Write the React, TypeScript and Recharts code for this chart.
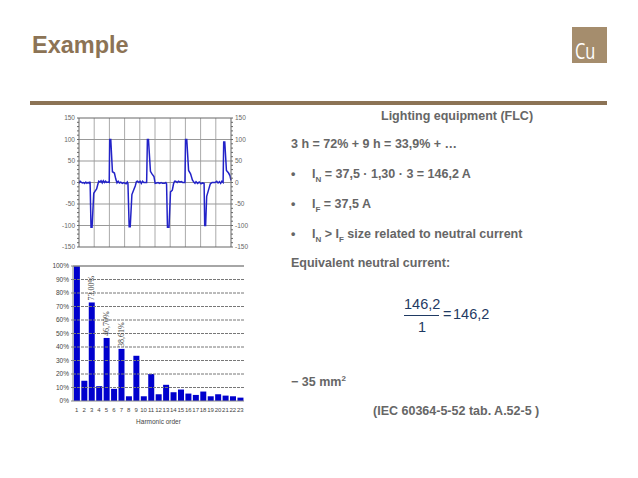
import { LineChart, Line, BarChart, Bar, XAxis, YAxis, ReferenceLine, LabelList } from 'recharts';

// waveform (x = 0..100 across the ten grid cells)
const waveTime = [
  0, 0.7, 1.4, 2.2, 3, 3.7, 4.5, 5.2, 6, 6.8, 7.3, 7.9, 8.6, 9.7, 10.6, 11.6, 12.4, 13, 13.8, 14.5, 15.3, 16, 16.8,
  17.5, 18.3, 19.2, 19.9, 20.2, 20.9, 22, 23.3, 24.2, 25, 25.8, 26.6, 27.5, 28.5, 29.5, 31, 31.8, 32.2, 33, 33.7,
  34.8, 35.9, 37, 37.8, 38.5, 39.4, 40.2, 41, 41.8, 42.6, 43.5, 44.5, 45, 45.7, 47, 48, 49.3, 50.1, 51, 52, 53, 54,
  55, 56.2, 57.1, 57.6, 58.2, 59.2, 60.2, 61.4, 62.2, 62.9, 63.6, 64.6, 65.5, 66.4, 67.3, 68.2, 69, 69.7, 70.1,
  70.9, 72.1, 73.4, 74.6, 75.5, 76.3, 77, 78, 79.1, 80.3, 81.2, 82.3, 82.7, 83.3, 84, 85, 86.4, 87.6, 88.4, 89.5,
  90.6, 91.5, 92.4, 93.2, 94, 94.8, 95.2, 95.9, 97, 98.4, 99.3, 100,
];
const waveCurrent = [
  -2, 3, 1, -1, 0, -2, 1, -2, 0, -2, 2, -104, -104, -25, -20, -15, -4, 3, 1, 4, -1, 4, 0, 3, 0, 1, 0, 100, 100, 25,
  22, 8, -1, 3, -1, 1, -2, 0, -3, 1, -2, -103, -103, -28, -18, -8, 2, 3, 0, 3, -2, 3, 0, 0, 0, 100, 100, 26, 20, 14,
  -2, -1, 0, -2, 0, -2, -2, 0, -3, -104, -104, -22, -18, -3, 3, 3, 0, 3, 1, 2, 0, 0, 0, 100, 100, 28, 20, 6, 1, -2,
  2, -2, 1, -3, -1, -2, -100, -100, -32, -20, -3, 0, 0, 0, 3, -1, 2, -2, 3, 0, 94, 94, 28, 22, 16, 5,
];
const voltTicks = [-150, -140, -130, -120, -110, -100, -90, -80, -70, -60, -50, -40, -30, -20, -10, 0, 10, 20, 30, 40, 50, 60, 70, 80, 90, 100, 110, 120, 130, 140, 150];
const voltGrid = [-100, -50, 0, 50, 100];
const voltBorder = [-150, 150];
const timeGrid = [10, 20, 30, 40, 50, 60, 70, 80, 90];

// harmonic spectrum
const orders = ['1', '2', '3', '4', '5', '6', '7', '8', '9', '10', '11', '12', '13', '14', '15', '16', '17', '18', '19', '20', '21', '22', '23'];
const shares = [100, 15, 73, 11, 46.7, 9, 38.61, 3.5, 33.5, 3.5, 20, 5, 12, 6.5, 8.5, 5.5, 4.5, 7, 3.5, 5, 4, 3.5, 2.5];
const shareLabels = ['', '', '73,00%', '', '46,70%', '', '38,61%', '', '', '', '', '', '', '', '', '', '', '', '', '', '', '', ''];
const shareTicks = [0, 10, 20, 30, 40, 50, 60, 70, 80, 90, 100];

const waveData = waveTime.map((t, i) => ({ t, current: waveCurrent[i] }));
const barData = orders.map((order, i) => ({ order, share: shares[i], label: shareLabels[i] }));

const BROWN = '#8c7355';
const GREY = '#666';
const SANS = '"Liberation Sans", Arial, sans-serif';

const VoltTick = ({ x, y, payload, textAnchor }: any) =>
  payload.value % 50 === 0 ? (
    <text x={x} y={y + 2} fontSize={6.5} fill="#666" textAnchor={textAnchor} fontFamily={SANS}>
      {payload.value}
    </text>
  ) : null;

const BarValue = ({ x, y, width, value }: any) => {
  if (!value) return null;
  const cx = x + width / 2 + 2.5;
  const cy = y - 2;
  return (
    <text x={cx} y={cy} fontSize={8} fill="#444" fontFamily='"Liberation Serif", serif' transform={`rotate(-90 ${cx} ${cy})`}>
      {value}
    </text>
  );
};

const Txt = ({ x, y, children, style }: any) => (
  <div
    style={{
      position: 'absolute',
      left: x,
      top: y,
      whiteSpace: 'nowrap',
      fontFamily: SANS,
      fontWeight: 700,
      fontSize: 12.5,
      lineHeight: '16px',
      color: GREY,
      ...style,
    }}
  >
    {children}
  </div>
);

const Sub = ({ children }: any) => <sub style={{ fontSize: 8, lineHeight: 0 }}>{children}</sub>;

export default function App() {
  return (
    <div style={{ position: 'absolute', left: 0, top: 0, width: 638, height: 478, background: '#fff', overflow: 'hidden' }}>
      <Txt x={32} y={30} style={{ fontSize: 23.5, lineHeight: '30px', color: BROWN }}>Example</Txt>
      <div style={{ position: 'absolute', left: 572, top: 27, width: 35, height: 36, background: '#a58d6d' }} />
      <Txt x={575} y={39} style={{ fontSize: 21, lineHeight: '24px', color: '#fff', fontWeight: 400, fontFamily: '"Open Sans", sans-serif', transform: 'scaleX(0.78)', transformOrigin: 'left' }}>Cu</Txt>
      <div style={{ position: 'absolute', left: 30, top: 101, width: 577, height: 4, background: BROWN }} />

      <div style={{ position: 'absolute', left: 30, top: 105 }}>
        <LineChart width={240} height={160} data={waveData} margin={{ top: 13, right: 0, bottom: 18, left: 0 }}>
          <XAxis dataKey="t" type="number" domain={[0, 100]} hide />
          <YAxis yAxisId="left" width={49} domain={[-150, 150]} ticks={voltTicks} interval={0} tick={<VoltTick />} tickSize={2} stroke="#666" />
          <YAxis yAxisId="right" orientation="right" width={39} domain={[-150, 150]} ticks={voltTicks} interval={0} tick={<VoltTick />} tickSize={2} stroke="#666" />
          {timeGrid.map((t) => (
            <ReferenceLine key={t} x={t} yAxisId="left" stroke="#aaa" />
          ))}
          {voltGrid.map((v) => (
            <ReferenceLine key={v} y={v} yAxisId="left" stroke="#999" />
          ))}
          {voltBorder.map((v) => (
            <ReferenceLine key={v} y={v} yAxisId="left" stroke="#666" />
          ))}
          {/* keeps the right axis drawn, same trace on the mirrored scale */}
          <Line yAxisId="right" dataKey="current" type="linear" stroke="none" dot={false} isAnimationActive={false} />
          <Line yAxisId="left" dataKey="current" type="linear" stroke="#2323c8" strokeWidth={1.5} dot={false} isAnimationActive={false} />
        </LineChart>
      </div>

      <div style={{ position: 'absolute', left: 40, top: 255 }}>
        <BarChart width={230} height={170} data={barData} barCategoryGap="12%" margin={{ top: 11, right: 26, bottom: 0, left: 0 }}>
          <XAxis
            dataKey="order"
            interval={0}
            height={24}
            tickLine={false}
            stroke="#888"
            tick={{ fontSize: 6, fill: '#444', fontFamily: SANS }}
            tickMargin={1}
            label={{ value: 'Harmonic order', position: 'insideBottom', offset: 1, fontSize: 6.5, fill: '#444', fontFamily: SANS }}
          />
          <YAxis
            width={33}
            domain={[0, 100]}
            ticks={shareTicks}
            tickFormatter={(v: number) => `${v}%`}
            tickSize={2}
            stroke="#888"
            tick={{ fontSize: 6.5, fill: '#444', fontFamily: SANS }}
          />
          {shareTicks.slice(1, 10).map((v) => (
            <ReferenceLine key={v} y={v} stroke="#777" strokeDasharray="3 1" />
          ))}
          <ReferenceLine y={100} stroke="#888" strokeWidth={1.5} />
          <Bar dataKey="share" fill="#0000cd" isAnimationActive={false}>
            <LabelList dataKey="label" content={<BarValue />} />
          </Bar>
        </BarChart>
      </div>

      <Txt x={381} y={108}>Lighting equipment (FLC)</Txt>
      <Txt x={291} y={136}>3 h = 72% + 9 h = 33,9% + …</Txt>
      <Txt x={291} y={166}>•</Txt>
      <Txt x={312} y={166}>I<Sub>N</Sub> = 37,5 · 1,30 · 3 = 146,2 A</Txt>
      <Txt x={291} y={196}>•</Txt>
      <Txt x={312} y={196}>I<Sub>F</Sub> = 37,5 A</Txt>
      <Txt x={291} y={226}>•</Txt>
      <Txt x={312} y={226}>I<Sub>N</Sub> &gt; I<Sub>F</Sub> size related to neutral current</Txt>
      <Txt x={291} y={255}>Equivalent neutral current:</Txt>

      <Txt x={404} y={296} style={{ fontWeight: 400, fontSize: 14.5, color: '#1f3a63' }}>146,2</Txt>
      <div style={{ position: 'absolute', left: 404, top: 315, width: 35, height: 1, background: '#1f3a63' }} />
      <Txt x={418} y={319} style={{ fontWeight: 400, fontSize: 14.5, color: '#1f3a63' }}>1</Txt>
      <Txt x={443} y={306} style={{ fontWeight: 400, fontSize: 14.5, color: '#1f3a63' }}>=</Txt>
      <Txt x={453} y={306} style={{ fontWeight: 400, fontSize: 14.5, color: '#1f3a63' }}>146,2</Txt>

      <Txt x={291} y={374}>− 35 mm<sup style={{ fontSize: 8, lineHeight: 0 }}>2</sup></Txt>
      <Txt x={373} y={403}>(IEC 60364-5-52 tab. A.52-5 )</Txt>
    </div>
  );
}
